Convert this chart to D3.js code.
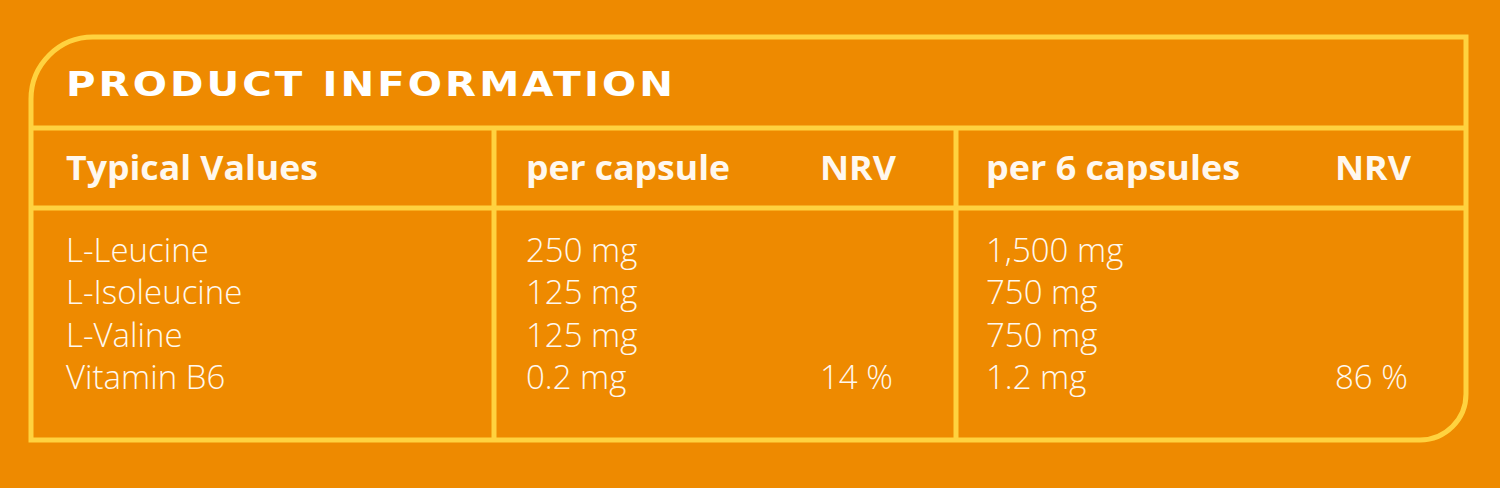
<!DOCTYPE html><html><head><meta charset="utf-8"><script src="https://cdn.jsdelivr.net/npm/d3@7"></script>
<style>body{margin:0;background:#EE8A00}</style></head><body><svg id="c" width="1500" height="488"></svg>
<script>
const title = "PRODUCT INFORMATION";
const headers = ["Typical Values","per capsule","NRV","per 6 capsules","NRV"];
const nutrients = ["L-Leucine","L-Isoleucine","L-Valine","Vitamin B6"];
const perCapsule = ["250 mg","125 mg","125 mg","0.2 mg"];
const nrvCapsule = ["","","","14 %"];
const per6 = ["1,500 mg","750 mg","750 mg","1.2 mg"];
const nrv6 = ["","","","86 %"];

const svg = d3.select("#c");
const Y="#FFD23F", W="#FFF8EE";
svg.append("rect").attr("width",1500).attr("height",488).attr("fill","#EE8A00");
const L=31,T=37,R=1466,B=440,r1=62,r2=46;
const p=d3.path();
p.moveTo(L+r1,T);p.lineTo(R,T);p.lineTo(R,B-r2);p.arcTo(R,B,R-r2,B,r2);p.lineTo(L,B);p.lineTo(L,T+r1);p.arcTo(L,T,L+r1,T,r1);p.closePath();
svg.append("path").attr("d",p.toString()).attr("fill","none").attr("stroke",Y).attr("stroke-width",5);
[128,208].forEach(y=>svg.append("line").attr("x1",L).attr("x2",R).attr("y1",y).attr("y2",y).attr("stroke",Y).attr("stroke-width",5));
[494,956].forEach(x=>svg.append("line").attr("x1",x).attr("x2",x).attr("y1",128).attr("y2",B).attr("stroke",Y).attr("stroke-width",5));

svg.append("text").attr("x",66).attr("y",96).text(title).attr("fill","#fff")
 .attr("font-family","DejaVu Sans").attr("font-weight","bold").attr("font-size",33).attr("letter-spacing",2.5)
 .attr("textLength",610).attr("lengthAdjust","spacingAndGlyphs");

const colX=[66,526,820,986,1335];
const hw=[252,204,76,254,76];
headers.forEach((h,i)=>svg.append("text").attr("x",colX[i]).attr("y",180).text(h).attr("fill",W)
 .attr("font-family","Open Sans").attr("font-weight","bold").attr("font-size",34)
 .attr("textLength",hw[i]).attr("lengthAdjust","spacingAndGlyphs"));

const cols=[nutrients,perCapsule,nrvCapsule,per6,nrv6];
const y=d3.scalePoint().domain(d3.range(nutrients.length)).range([262,389]);
cols.forEach((col,ci)=>col.forEach((t,ri)=>{ if(!t) return;
 svg.append("text").attr("x",colX[ci]).attr("y",y(ri)).text(t).attr("fill",W)
 .attr("font-family","Open Sans").attr("font-weight",300).attr("font-size",33);
}));
</script></body></html>
